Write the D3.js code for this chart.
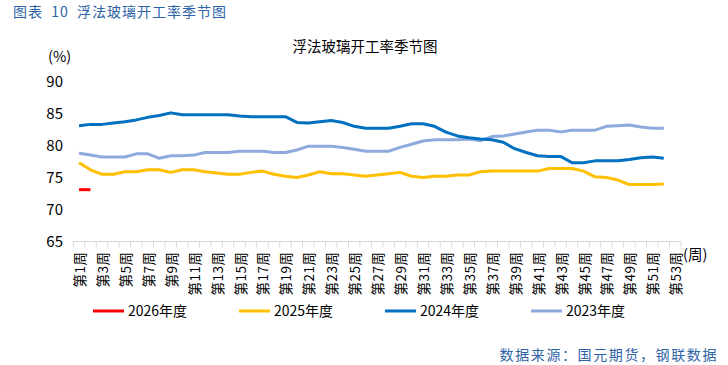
<!DOCTYPE html>
<html>
<head>
<meta charset="utf-8">
<script src="https://cdn.jsdelivr.net/npm/d3@7"></script>
<style>
  body { margin: 0; background: #fff; }
  text { font-family: "Noto Sans CJK SC", "Noto Sans", sans-serif; }
</style>
</head>
<body>
<svg id="chart" width="728" height="365"></svg>
<script>
// weeks 1..53, data only up to week 52
const weeks = d3.range(1, 54).map(d => "第" + d + "周");
const yTicks = [65, 70, 75, 80, 85, 90];

const s2026 = [73.1, 73.1];
const s2025 = [77.3, 76.2, 75.5, 75.5, 75.9, 75.9, 76.2, 76.2, 75.8, 76.2,
  76.2, 75.9, 75.7, 75.5, 75.5, 75.8, 76.0, 75.5, 75.2, 75.0,
  75.4, 75.9, 75.6, 75.6, 75.4, 75.2, 75.4, 75.6, 75.8, 75.2,
  75.0, 75.2, 75.2, 75.4, 75.4, 75.9, 76.0, 76.0, 76.0, 76.0,
  76.0, 76.4, 76.4, 76.4, 76.0, 75.1, 75.0, 74.6, 73.9, 73.9,
  73.9, 74.0];
const s2024 = [83.1, 83.3, 83.3, 83.5, 83.7, 84.0, 84.4, 84.7, 85.1, 84.8,
  84.8, 84.8, 84.8, 84.8, 84.6, 84.5, 84.5, 84.5, 84.5, 83.6,
  83.5, 83.7, 83.9, 83.6, 83.0, 82.7, 82.7, 82.7, 83.0, 83.4,
  83.4, 83.0, 82.1, 81.5, 81.2, 81.0, 80.9, 80.5, 79.5, 78.9,
  78.4, 78.3, 78.3, 77.3, 77.3, 77.6, 77.6, 77.6, 77.8, 78.1,
  78.2, 78.0];
const s2023 = [78.8, 78.5, 78.2, 78.2, 78.2, 78.7, 78.7, 78.0, 78.4, 78.4,
  78.5, 78.9, 78.9, 78.9, 79.1, 79.1, 79.1, 78.9, 78.9, 79.3,
  79.9, 79.9, 79.9, 79.7, 79.4, 79.1, 79.1, 79.1, 79.7, 80.2,
  80.7, 80.9, 80.9, 80.9, 81.0, 80.75, 81.4, 81.5, 81.8, 82.1,
  82.4, 82.4, 82.1, 82.4, 82.4, 82.4, 83.0, 83.1, 83.2, 82.9,
  82.7, 82.7];

const series = [
  { name: "2026年度", color: "#ff0000", values: s2026 },
  { name: "2025年度", color: "#ffc000", values: s2025 },
  { name: "2024年度", color: "#0070c0", values: s2024 },
  { name: "2023年度", color: "#8eaadc", values: s2023 }
];

const svg = d3.select("#chart");
const plotLeft = 73.3, plotRight = 681, plotTop = 81.5, plotBottom = 241.5;

const x = d3.scaleBand().domain(weeks).range([plotLeft, plotRight]);
const y = d3.scaleLinear().domain([65, 90]).range([plotBottom, plotTop]);

// header + title
svg.append("text").attr("x", 13).attr("y", 17)
  .attr("fill", "#2e64a6").style("font-size", "14px").style("letter-spacing", "1px")
  .style("white-space", "pre")
  .text("图表  10  浮法玻璃开工率季节图");
svg.append("text").attr("x", 365).attr("y", 52).attr("text-anchor", "middle")
  .attr("fill", "#000").style("font-size", "14.5px")
  .text("浮法玻璃开工率季节图");
svg.append("text").attr("x", 718).attr("y", 360).attr("text-anchor", "end")
  .attr("fill", "#2e64a6").style("font-size", "14px").style("letter-spacing", "1.6px")
  .text("数据来源：国元期货，钢联数据");

// y axis labels (no axis line)
svg.append("g").selectAll("text").data(yTicks).join("text")
  .attr("x", 63).attr("y", d => y(d)).attr("dy", "0.35em")
  .attr("text-anchor", "end").style("font-size", "15px").attr("fill", "#000")
  .text(d => d);
svg.append("text").attr("x", 48).attr("y", 62).style("font-size", "14.5px").text("(%)");

// x axis
const xAxis = svg.append("g").attr("transform", `translate(0,${plotBottom})`);
xAxis.append("line").attr("x1", plotLeft).attr("x2", plotRight).attr("stroke", "#d9d9d9");
const bounds = weeks.map(w => x(w)).concat([plotRight]);
xAxis.selectAll("line.tick").data(bounds).join("line").attr("class", "tick")
  .attr("x1", d => d).attr("x2", d => d).attr("y1", 0).attr("y2", 6)
  .attr("stroke", "#d9d9d9");
xAxis.selectAll("text").data(weeks.filter((w, i) => i % 2 === 0)).join("text")
  .attr("transform", d => `translate(${x(d) + x.bandwidth() / 2},10) rotate(-90)`)
  .attr("text-anchor", "end").attr("dominant-baseline", "central")
  .style("font-size", "13.5px").style("letter-spacing", "0.5px").attr("fill", "#000")
  .text(d => d);
svg.append("text").attr("x", 683).attr("y", 260).style("font-size", "14.5px").text("(周)");

// lines
const line = d3.line()
  .x((d, i) => x(weeks[i]) + x.bandwidth() / 2)
  .y(d => y(d));
svg.append("g").selectAll("path").data(series.slice().reverse()).join("path")
  .attr("d", d => line(d.values))
  .attr("fill", "none").attr("stroke", d => d.color)
  .attr("stroke-width", 3).attr("stroke-linejoin", "round");

// legend
const lg = svg.append("g").selectAll("g").data(series).join("g")
  .attr("transform", (d, i) => `translate(${93 + i * 146},311)`);
lg.append("line").attr("x1", 0).attr("x2", 31)
  .attr("stroke", d => d.color).attr("stroke-width", 3);
lg.append("text").attr("x", 35).attr("y", 0).attr("dy", "0.35em")
  .style("font-size", "14px").text(d => d.name);
</script>
</body>
</html>
